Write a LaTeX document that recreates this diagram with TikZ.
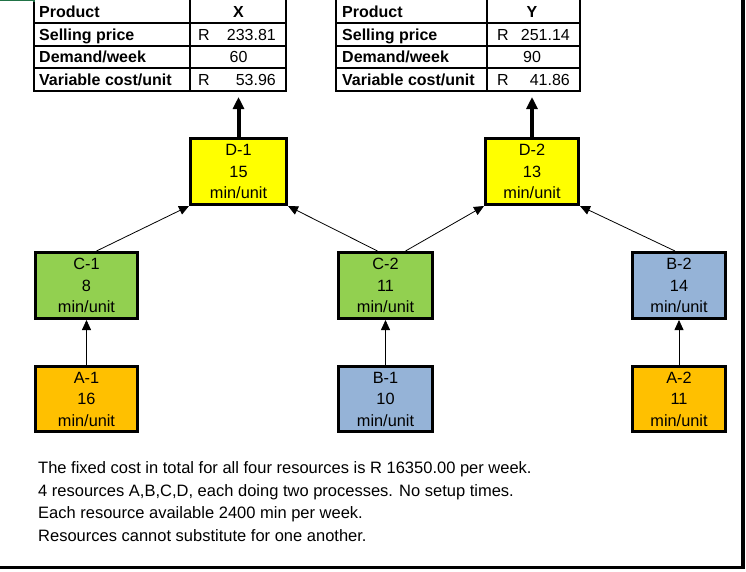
\documentclass[tikz,border=0pt]{standalone}
\usepackage{fontspec}
\setmainfont{Liberation Sans}
\usetikzlibrary{arrows.meta,calc}
\definecolor{cyel}{HTML}{FFFF00}
\definecolor{cgrn}{HTML}{92D050}
\definecolor{cblu}{HTML}{95B3D7}
\definecolor{corg}{HTML}{FFC000}
\definecolor{xlgreen}{HTML}{217346}
\begin{document}
\begin{tikzpicture}[x=1pt,y=-1pt,
  proc/.style={draw, line width=3pt, align=center, inner sep=0pt,
    font=\fontsize{16.3}{21.5}\selectfont},
  cell/.style={draw, line width=2pt, inner sep=0pt, outer sep=0pt},
  lab/.style={font=\fontsize{16}{18}\selectfont\bfseries, inner sep=0pt, text height=11.5pt, text depth=0pt},
  val/.style={font=\fontsize{16}{18}\selectfont, inner sep=0pt, text height=11.5pt, text depth=0pt},
  thinarr/.style={line width=0.8pt, -{Triangle[width=9pt,length=10pt]}},
  thickarr/.style={line width=4pt, -{Triangle[width=11pt,length=12pt]}, shorten >=6pt},
  notetext/.style={align=left, inner sep=0pt, font=\fontsize{16.5}{22.5}\selectfont},
]
\useasboundingbox (0,0) rectangle (746,571);

% ---- table 1 ----
\node[cell, minimum width=156pt, minimum height=25pt]   (t1a1) at (112,10.5) {};
\node[cell, minimum width=96pt,  minimum height=25pt]   (t1b1) at (238,10.5) {};
\node[cell, minimum width=156pt, minimum height=22.5pt] (t1a2) at (112,34.25) {};
\node[cell, minimum width=96pt,  minimum height=22.5pt] (t1b2) at (238,34.25) {};
\node[cell, minimum width=156pt, minimum height=22.5pt] (t1a3) at (112,56.75) {};
\node[cell, minimum width=96pt,  minimum height=22.5pt] (t1b3) at (238,56.75) {};
\node[cell, minimum width=156pt, minimum height=23pt]   (t1a4) at (112,79.5) {};
\node[cell, minimum width=96pt,  minimum height=23pt]   (t1b4) at (238,79.5) {};

\node[lab, anchor=west] (l11) at (39,11.5) {Product};
\node[lab, anchor=west] (l12) at (39,34.5) {Selling price};
\node[lab, anchor=west] (l13) at (39,57) {Demand/week};
\node[lab, anchor=west] (l14) at (39,79.5) {Variable cost/unit};
\node[lab] (v11) at (238.5,11.5) {X};
\node[val, anchor=west] (r12) at (198,34.5) {R};
\node[val, anchor=east] (v12) at (276,34.5) {233.81};
\node[val] (v13) at (238.5,57) {60};
\node[val, anchor=west] (r14) at (198,79.5) {R};
\node[val, anchor=east] (v14) at (276,79.5) {53.96};

% ---- table 2 ----
\node[cell, minimum width=151pt, minimum height=25pt]   (t2a1) at (411.5,10.5) {};
\node[cell, minimum width=93pt,  minimum height=25pt]   (t2b1) at (533.5,10.5) {};
\node[cell, minimum width=151pt, minimum height=22.5pt] (t2a2) at (411.5,34.25) {};
\node[cell, minimum width=93pt,  minimum height=22.5pt] (t2b2) at (533.5,34.25) {};
\node[cell, minimum width=151pt, minimum height=22.5pt] (t2a3) at (411.5,56.75) {};
\node[cell, minimum width=93pt,  minimum height=22.5pt] (t2b3) at (533.5,56.75) {};
\node[cell, minimum width=151pt, minimum height=23pt]   (t2a4) at (411.5,79.5) {};
\node[cell, minimum width=93pt,  minimum height=23pt]   (t2b4) at (533.5,79.5) {};

\node[lab, anchor=west] (l21) at (342,11.5) {Product};
\node[lab, anchor=west] (l22) at (342,34.5) {Selling price};
\node[lab, anchor=west] (l23) at (342,57) {Demand/week};
\node[lab, anchor=west] (l24) at (342,79.5) {Variable cost/unit};
\node[lab] (v21) at (532,11.5) {Y};
\node[val, anchor=west] (r22) at (497,34.5) {R};
\node[val, anchor=east] (v22) at (570,34.5) {251.14};
\node[val] (v23) at (532,57) {90};
\node[val, anchor=west] (r24) at (497,79.5) {R};
\node[val, anchor=east] (v24) at (570,79.5) {41.86};

% ---- process boxes ----
\node[proc, fill=cyel, minimum width=96pt,  minimum height=66pt] (D1) at (238.5,171.5) {D-1\\15\\min/unit};
\node[proc, fill=cyel, minimum width=93pt,  minimum height=66pt] (D2) at (532,171.5)   {D-2\\13\\min/unit};
\node[proc, fill=cgrn, minimum width=102pt, minimum height=66pt] (C1) at (86.5,285.5)  {C-1\\8\\min/unit};
\node[proc, fill=cgrn, minimum width=94pt,  minimum height=66pt] (C2) at (385.5,285.5) {C-2\\11\\min/unit};
\node[proc, fill=cblu, minimum width=93pt,  minimum height=66pt] (B2) at (679,285.5)   {B-2\\14\\min/unit};
\node[proc, fill=corg, minimum width=102pt, minimum height=65pt] (A1) at (86.5,399)    {A-1\\16\\min/unit};
\node[proc, fill=cblu, minimum width=94pt,  minimum height=65pt] (B1) at (385.5,399)   {B-1\\10\\min/unit};
\node[proc, fill=corg, minimum width=93pt,  minimum height=65pt] (A2) at (679,399)     {A-2\\11\\min/unit};

% ---- connectors ----
\draw[thickarr] (D1.north) -- (D1.north |- t1b4.south);
\draw[thickarr] (D2.north) -- (D2.north |- t2b4.south);
\draw[thinarr] ([xshift=10pt]C1.north) -- (D1.south west);
\draw[thinarr] ([xshift=-8pt]C2.north) -- (D1.south east);
\draw[thinarr] ([xshift=20pt]C2.north) -- (D2.south west);
\draw[thinarr] ([xshift=-4pt]B2.north) -- (D2.south east);
\draw[thinarr] (A1.north) -- (C1.south);
\draw[thinarr] (B1.north) -- (C2.south);
\draw[thinarr] (A2.north) -- (B2.south);

% ---- note ----
\node[notetext, anchor=north west] (note) at (38,461.5) {The fixed cost in total for all four resources is R 16350.00 per week.\\
4 resources A,B,C,D, each doing two processes. No setup times.\\
Each resource available 2400 min per week.\\
Resources cannot substitute for one another.};

% ---- frame and sheet marks ----
\draw[line width=3.5pt] (0,567.5) -- (743,567.5);
\draw[line width=4pt] (743,-2) -- (743,569.25);
\draw[xlgreen, line width=1.4pt] (0,0.7) -- (33,0.7);
\fill[xlgreen] (32.5,0) rectangle (35,2.2);
\end{tikzpicture}
\end{document}
